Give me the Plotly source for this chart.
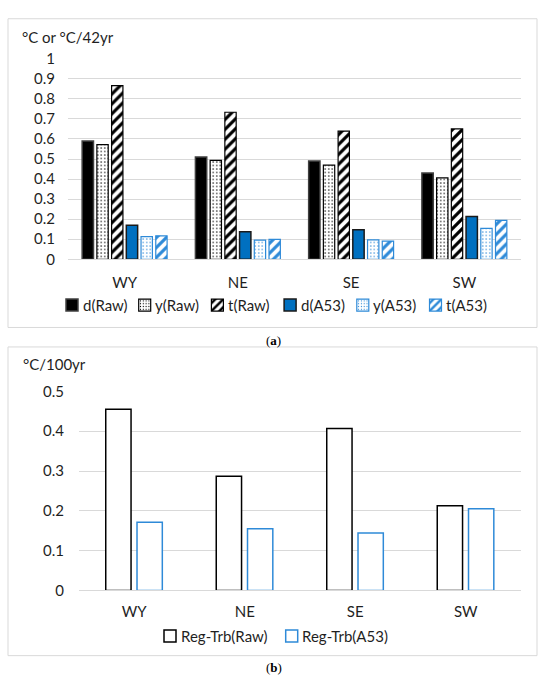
import plotly.graph_objects as go

categories = ["WY", "NE", "SE", "SW"]
d_raw = [0.59, 0.51, 0.49, 0.43]
y_raw = [0.572, 0.493, 0.469, 0.406]
t_raw = [0.866, 0.733, 0.639, 0.650]
d_a53 = [0.170, 0.137, 0.147, 0.213]
y_a53 = [0.113, 0.096, 0.097, 0.154]
t_a53 = [0.117, 0.099, 0.091, 0.194]

reg_raw = [0.455, 0.287, 0.407, 0.213]
reg_a53 = [0.171, 0.155, 0.144, 0.205]

top_names = ["d(Raw)", "y(Raw)", "t(Raw)", "d(A53)", "y(A53)", "t(A53)"]
bot_names = ["Reg-Trb(Raw)", "Reg-Trb(A53)"]
top_ticks = [0, 0.1, 0.2, 0.3, 0.4, 0.5, 0.6, 0.7, 0.8, 0.9, 1]
bot_ticks = [0, 0.1, 0.2, 0.3, 0.4, 0.5]

FONT = "Lato"
FS = 15
BLUE = "#0070C0"
LBLUE = "#2E8AD8"
GRID = "#d9d9d9"
TXT = "#1f1f1f"
W, H = 550, 688

fig = go.Figure()

def pat(shape, fg, size, sol):
    return dict(shape=shape, fgcolor=fg, bgcolor="white", size=size, solidity=sol, fillmode="replace")

top_markers = [
    dict(color="black", line=dict(color="#404040", width=1.5)),
    dict(color="white", pattern=pat(".", "black", 3.5, 0.14), line=dict(color="black", width=1.2)),
    dict(color="white", pattern=pat("/", "black", 7, 0.45), line=dict(color="black", width=1.2)),
    dict(color=BLUE, line=dict(color="#1a1a1a", width=1.5)),
    dict(color="white", pattern=pat(".", LBLUE, 3.5, 0.14), line=dict(color=LBLUE, width=1.2)),
    dict(color="white", pattern=pat("/", LBLUE, 7, 0.45), line=dict(color=LBLUE, width=1.2)),
]
top_values = [d_raw, y_raw, t_raw, d_a53, y_a53, t_a53]

# legend geometry (pixels): plotly puts a bar swatch centred 20px into each entry,
# entries are spaced textgap(40) + entrywidth + itemgap(5)
TOP_LEG_C0, TOP_LEG_STEP, TOP_LEG_Y = 72, 72.7, 303.3
BOT_LEG_C0, BOT_LEG_STEP, BOT_LEG_Y = 170, 121.7, 643
LBL_GAP = 8.5

for name, vals, marker in zip(top_names, top_values, top_markers):
    fig.add_trace(go.Bar(x=categories, y=vals, name="", marker=marker,
                         legendwidth=TOP_LEG_STEP - 45,
                         xaxis="x", yaxis="y", legend="legend", hoverinfo="skip"))

bw = 0.229
bot_markers = [
    dict(color="white", line=dict(color="black", width=1.5)),
    dict(color="white", line=dict(color=LBLUE, width=1.5)),
]
for vals, marker, off in zip([reg_raw, reg_a53], bot_markers, [-0.258, 0.025]):
    fig.add_trace(go.Bar(x=categories, y=vals, name="", marker=marker,
                         width=bw, offset=off, legendwidth=BOT_LEG_STEP - 45,
                         xaxis="x2", yaxis="y2", legend="legend2", hoverinfo="skip"))

axis_font = dict(family=FONT, size=FS, color=TXT)

fig.update_layout(
    width=W, height=H,
    margin=dict(l=0, r=0, t=0, b=0),
    paper_bgcolor="white", plot_bgcolor="white",
    barmode="group", bargap=0.22, bargroupgap=0.23,
    font=dict(family=FONT, size=FS, color=TXT),
    xaxis=dict(domain=[68 / W, 521 / W], anchor="y", type="category",
               showgrid=False, showline=True, linecolor=GRID, linewidth=1,
               ticks="", tickfont=axis_font, ticklabelstandoff=10),
    yaxis=dict(domain=[1 - 256 / H, 1 - 50 / H], anchor="x", range=[0, 1],
               tickvals=top_ticks, ticktext=[f"{v:g}" for v in top_ticks],
               showgrid=True, gridcolor=GRID, gridwidth=1, zeroline=False,
               showline=False, ticks="", tickfont=axis_font, ticklabelstandoff=12),
    xaxis2=dict(domain=[79 / W, 521 / W], anchor="y2", type="category",
                showgrid=False, showline=True, linecolor=GRID, linewidth=1,
                ticks="", tickfont=axis_font, ticklabelstandoff=8),
    yaxis2=dict(domain=[1 - 596 / H, 1 - 391.7 / H], anchor="x2", range=[0, 0.5],
                tickvals=bot_ticks, ticktext=[f"{v:g}" for v in bot_ticks],
                showgrid=True, gridcolor=GRID, gridwidth=1, zeroline=False,
                showline=False, ticks="", tickfont=axis_font, ticklabelstandoff=14),
    legend=dict(orientation="h", x=(TOP_LEG_C0 - 20) / W, xanchor="left",
                y=1 - TOP_LEG_Y / H, yanchor="middle", borderwidth=0,
                font=dict(family=FONT, size=FS, color=TXT),
                bgcolor="rgba(0,0,0,0)", traceorder="normal"),
    legend2=dict(orientation="h", x=(BOT_LEG_C0 - 20) / W, xanchor="left",
                 y=1 - BOT_LEG_Y / H, yanchor="middle", borderwidth=0,
                 font=dict(family=FONT, size=FS, color=TXT),
                 bgcolor="rgba(0,0,0,0)", traceorder="normal"),
    showlegend=True,
)

# legend labels next to the swatches
for i, nm in enumerate(top_names):
    fig.add_annotation(text=nm, xref="paper", yref="paper",
                       x=(TOP_LEG_C0 + i * TOP_LEG_STEP + LBL_GAP) / W, y=1 - TOP_LEG_Y / H,
                       xanchor="left", yanchor="middle", showarrow=False,
                       font=dict(family=FONT, size=FS, color=TXT))
for i, nm in enumerate(bot_names):
    fig.add_annotation(text=nm, xref="paper", yref="paper",
                       x=(BOT_LEG_C0 + i * BOT_LEG_STEP + LBL_GAP) / W, y=1 - BOT_LEG_Y / H,
                       xanchor="left", yanchor="middle", showarrow=False,
                       font=dict(family=FONT, size=FS, color=TXT))

# panel frames
for y0, y1 in [(9, 326), (346, 663)]:
    fig.add_shape(type="rect", xref="paper", yref="paper",
                  x0=8 / W, x1=537 / W, y0=1 - y1 / H, y1=1 - y0 / H,
                  line=dict(color=GRID, width=1), fillcolor="rgba(0,0,0,0)", layer="below")

fig.add_annotation(text="°C or °C/42yr", xref="paper", yref="paper", x=20 / W, y=1 - 28 / H,
                   xanchor="left", yanchor="middle", showarrow=False,
                   font=dict(family=FONT, size=FS, color=TXT))
fig.add_annotation(text="°C/100yr", xref="paper", yref="paper", x=21 / W, y=1 - 363 / H,
                   xanchor="left", yanchor="middle", showarrow=False,
                   font=dict(family=FONT, size=FS, color=TXT))
fig.add_annotation(text="(<b>a</b>)", xref="paper", yref="paper", x=273 / W, y=1 - 339 / H,
                   xanchor="center", yanchor="middle", showarrow=False,
                   font=dict(family="Liberation Serif", size=13, color="black"))
fig.add_annotation(text="(<b>b</b>)", xref="paper", yref="paper", x=274 / W, y=1 - 675 / H,
                   xanchor="center", yanchor="middle", showarrow=False,
                   font=dict(family="Liberation Serif", size=13, color="black"))

fig.write_html("out.html", config={"displayModeBar": False},
               post_script="document.body.style.margin='0';")
